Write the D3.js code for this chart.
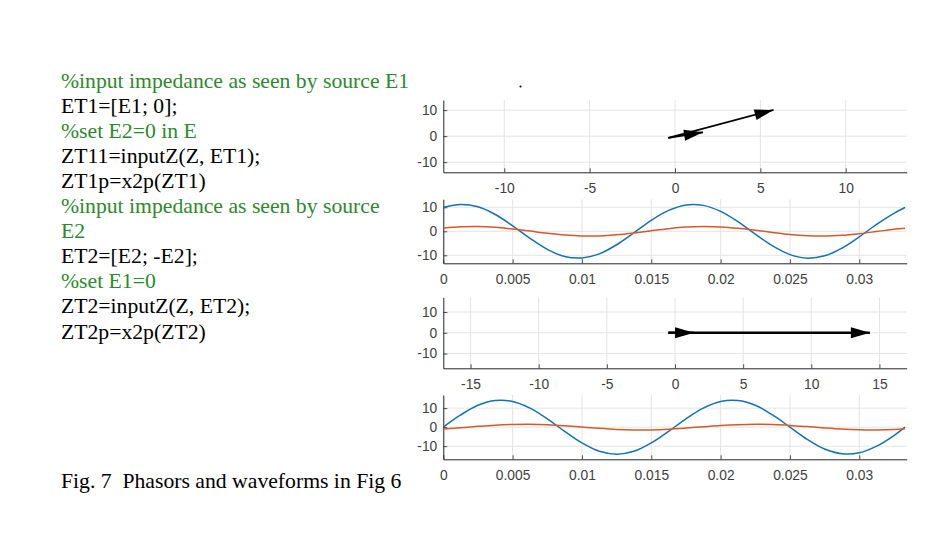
<!DOCTYPE html>
<html>
<head>
<meta charset="utf-8">
<script src="https://d3js.org/d3.v7.min.js"></script>
<style>
  html, body { margin: 0; padding: 0; background: #fff; }
  svg { display: block; }
  .code { font-family: "Liberation Serif", serif; font-size: 21.7px; }
  .tick text { font-family: "Liberation Sans", sans-serif; font-size: 13.8px; fill: #404040; }
</style>
</head>
<body>
<svg id="chart" width="945" height="538"></svg>
<script>
// text block on the left
const codeLines = [
  ['%input impedance as seen by source E1', true],
  ['ET1=[E1; 0];', false],
  ['%set E2=0 in E', true],
  ['ZT11=inputZ(Z, ET1);', false],
  ['ZT1p=x2p(ZT1)', false],
  ['%input impedance as seen by source', true],
  ['E2', true],
  ['ET2=[E2; -E2];', false],
  ['%set E1=0', true],
  ['ZT2=inputZ(Z, ET2);', false],
  ['ZT2p=x2p(ZT2)', false]
];
const caption = 'Fig. 7  Phasors and waveforms in Fig 6';

// tick labels
const phasorTicks1 = [-10, -5, 0, 5, 10];
const phasorTicks2 = [-15, -10, -5, 0, 5, 10, 15];
const timeTicks = [0, 0.005, 0.01, 0.015, 0.02, 0.025, 0.03];
const valueTicks = [-10, 0, 10];

// phasors, [x, y] of the arrow tips, tail slightly left of the origin
const phasorTail1 = [-0.39, -0.65];
const phasorTips1 = [[1.64, 1.5], [5.77, 10.1]];
const phasorTail2 = [-0.49, 0];
const phasorTips2 = [[1.4, 0], [14.3, 0]];

// waveforms
const time = [0, 0.00125, 0.0025, 0.00375, 0.005, 0.00625, 0.0075, 0.00875, 0.01, 0.01125,
  0.0125, 0.01375, 0.015, 0.01625, 0.0175, 0.01875, 0.02, 0.02125, 0.0225, 0.02375,
  0.025, 0.02625, 0.0275, 0.02875, 0.03, 0.03125, 0.0325, 0.0333];
const blue1 = [10, 11.2, 10.2, 7, 2.3, -2.9, -7.5, -10.5, -11.1, -9.4,
  -5.6, -0.6, 4.6, 8.7, 11, 10.8, 8.3, 4, -1.2, -6.1,
  -9.7, -11.2, -10.2, -7, -2.3, 2.9, 7.5, 9.9];
const red1 = [1.4, 1.87, 1.99, 1.67, 0.98, 0.09, -0.83, -1.57, -1.96, -1.93,
  -1.47, -0.7, 0.23, 1.1, 1.74, 2, 1.82, 1.24, 0.4, -0.5,
  -1.35, -1.87, -1.99, -1.67, -0.98, -0.09, 0.83, 1.3];
const blue2 = [0, 6.4, 11.5, 14, 13.5, 10, 4.4, -2.2, -8.3, -12.7,
  -14.2, -12.7, -8.3, -2.2, 4.4, 10, 13.5, 14, 11.5, 6.4,
  0, -6.4, -11.5, -14, -13.5, -10, -4.4, 0];
const red2 = [-0.92, -0.29, 0.41, 1.02, 1.41, 1.49, 1.24, 0.73, 0.05, -0.63,
  -1.18, -1.47, -1.44, -1.1, -0.51, 0.18, 0.84, 1.31, 1.5, 1.36,
  0.92, 0.29, -0.41, -1.02, -1.41, -1.49, -1.24, -0.87];

const svg = d3.select('#chart');
const plotLeft = 443.3, plotRight = 906.7;
const GRID = '#e4e4e4', AXIS = '#262626';
const BLUE = '#1273b3', RED = '#d9582a';

// left column
svg.selectAll('text.code').data(codeLines).join('text')
  .attr('class', 'code')
  .attr('x', 61)
  .attr('y', (d, i) => 88 + i * 25.05)
  .attr('fill', d => d[1] ? '#2b8a2b' : '#000')
  .text(d => d[0]);
svg.append('text').attr('class', 'code')
  .attr('x', 61).attr('y', 488)
  .style('white-space', 'pre')
  .attr('fill', '#000').text(caption);

// stray dot above the first panel
svg.append('circle').attr('cx', 520.5).attr('cy', 86.5).attr('r', 1).attr('fill', '#000');

function panel(top, bottom, xDomain, yDomain, xTicks) {
  const x = d3.scaleLinear().domain(xDomain).range([plotLeft, plotRight]);
  const y = d3.scaleLinear().domain(yDomain).range([bottom, top]);
  const g = svg.append('g');

  // grid first so axes and marks sit above it
  g.selectAll('line.gx').data(xTicks).join('line')
    .attr('x1', d => x(d)).attr('x2', d => x(d))
    .attr('y1', top).attr('y2', bottom)
    .attr('stroke', GRID).attr('stroke-width', 1);
  g.selectAll('line.gy').data(valueTicks).join('line')
    .attr('x1', plotLeft).attr('x2', plotRight)
    .attr('y1', d => y(d)).attr('y2', d => y(d))
    .attr('stroke', GRID).attr('stroke-width', 1);

  const ax = g.append('g').attr('transform', `translate(0,${bottom})`)
    .call(d3.axisBottom(x).tickValues(xTicks).tickFormat(d => String(d))
      .tickSizeInner(-4).tickSizeOuter(0).tickPadding(10.5));
  const ay = g.append('g').attr('transform', `translate(${plotLeft},0)`)
    .call(d3.axisLeft(y).tickValues(valueTicks).tickFormat(d => String(d))
      .tickSizeInner(-4).tickSizeOuter(0).tickPadding(6));
  [ax, ay].forEach(a => {
    a.selectAll('path.domain').attr('stroke', AXIS).attr('stroke-width', 1);
    a.selectAll('.tick line').attr('stroke', AXIS).attr('stroke-width', 0.8);
  });
  return { g, x, y };
}

// every phasor has its own shaft from the tail, so the head follows that shaft
function drawPhasors(p, tail, tips, width) {
  const { g, x, y } = p;
  tips.forEach(t => {
    const tx = x(t[0]), ty = y(t[1]);
    g.append('line')
      .attr('x1', x(tail[0])).attr('y1', y(tail[1]))
      .attr('x2', tx).attr('y2', ty)
      .attr('stroke', '#000').attr('stroke-width', width);
    const a = Math.atan2(ty - y(tail[1]), tx - x(tail[0])) * 180 / Math.PI;
    g.append('path')
      .attr('d', 'M0 0 L-19 -5.5 L-19 5.5Z')
      .attr('transform', `translate(${tx},${ty}) rotate(${a})`)
      .attr('fill', '#000');
  });
}

function drawWaves(p, series) {
  const line = d3.line()
    .x((d, i) => p.x(time[i]))
    .y(d => p.y(d))
    .curve(d3.curveCatmullRom);
  series.forEach(s => {
    p.g.append('path').datum(s.values)
      .attr('d', line)
      .attr('fill', 'none')
      .attr('stroke', s.color)
      .attr('stroke-width', 1.5);
  });
}

const timeDomain = [0, 0.03342];

const p1 = panel(100, 172.3, [-13.57, 13.57], [-13.9, 13.9], phasorTicks1);
drawPhasors(p1, phasorTail1, phasorTips1, 1.8);

const p2 = panel(199.3, 263.3, timeDomain, [-13.33, 13.33], timeTicks);
drawWaves(p2, [{ values: blue1, color: BLUE }, { values: red1, color: RED }]);

const p3 = panel(297.3, 368.3, [-17, 17], [-17.1, 17.1], phasorTicks2);
drawPhasors(p3, phasorTail2, phasorTips2, 2.4);

const p4 = panel(395, 459.3, timeDomain, [-16.9, 16.9], timeTicks);
drawWaves(p4, [{ values: blue2, color: BLUE }, { values: red2, color: RED }]);
</script>
</body>
</html>
